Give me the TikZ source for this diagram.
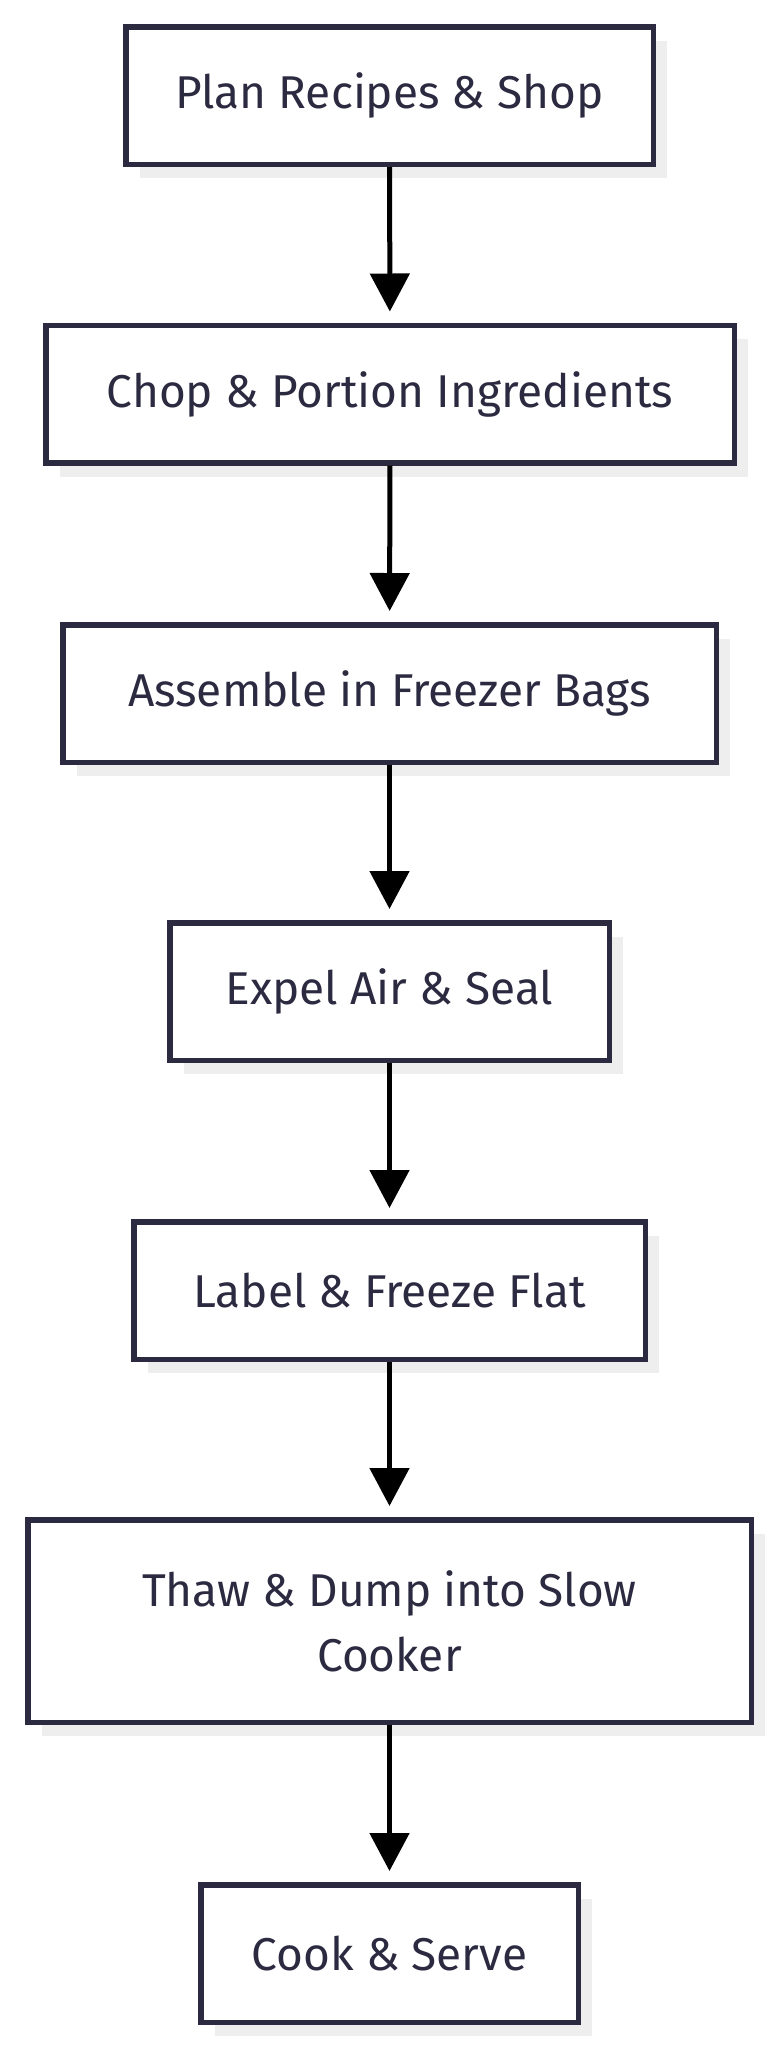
\documentclass[tikz,border=0pt]{standalone}
\usepackage{fontspec}
\setmainfont{Fira Sans}
\usetikzlibrary{arrows.meta,shadows}
\definecolor{edge}{HTML}{2B2A40}
\definecolor{shade}{HTML}{EEEEEE}
\tikzset{
  stepbox/.style={draw=edge, line width=5.5pt, fill=white, text=edge,
    font=\fontsize{46}{65}\selectfont, align=center, inner sep=0pt,
    minimum height=137.5pt,
    general shadow={fill=shade, shadow xshift=14pt, shadow yshift=-14pt}},
  flow/.style={line width=5pt, draw=black,
    -{Triangle[width=39pt,length=38pt]}, shorten >=11pt}
}
\begin{document}
\begin{tikzpicture}[x=1pt,y=1pt]
\useasboundingbox (0,0) rectangle (779,-2048);
\node[stepbox, minimum width=527.5pt] (a) at (389.5,-95.5) {Plan Recipes \& Shop};
\node[stepbox, minimum width=688.5pt] (b) at (390,-394) {Chop \& Portion Ingredients};
\node[stepbox, minimum width=653.5pt] (c) at (389.5,-693.5) {Assemble in Freezer Bags};
\node[stepbox, minimum width=439.5pt] (d) at (389.5,-991.5) {Expel Air \& Seal};
\node[stepbox, minimum width=511.5pt] (e) at (389.5,-1290.5) {Label \& Freeze Flat};
\node[stepbox, minimum width=723.5pt, minimum height=202.5pt] (f) at (389.5,-1621) {Thaw \& Dump into Slow\\Cooker};
\node[stepbox, minimum width=377.5pt] (g) at (389.5,-1953.5) {Cook \& Serve};
\draw[flow] (a) -- (b);
\draw[flow] (b) -- (c);
\draw[flow] (c) -- (d);
\draw[flow] (d) -- (e);
\draw[flow] (e) -- (f);
\draw[flow] (f) -- (g);
\end{tikzpicture}
\end{document}
